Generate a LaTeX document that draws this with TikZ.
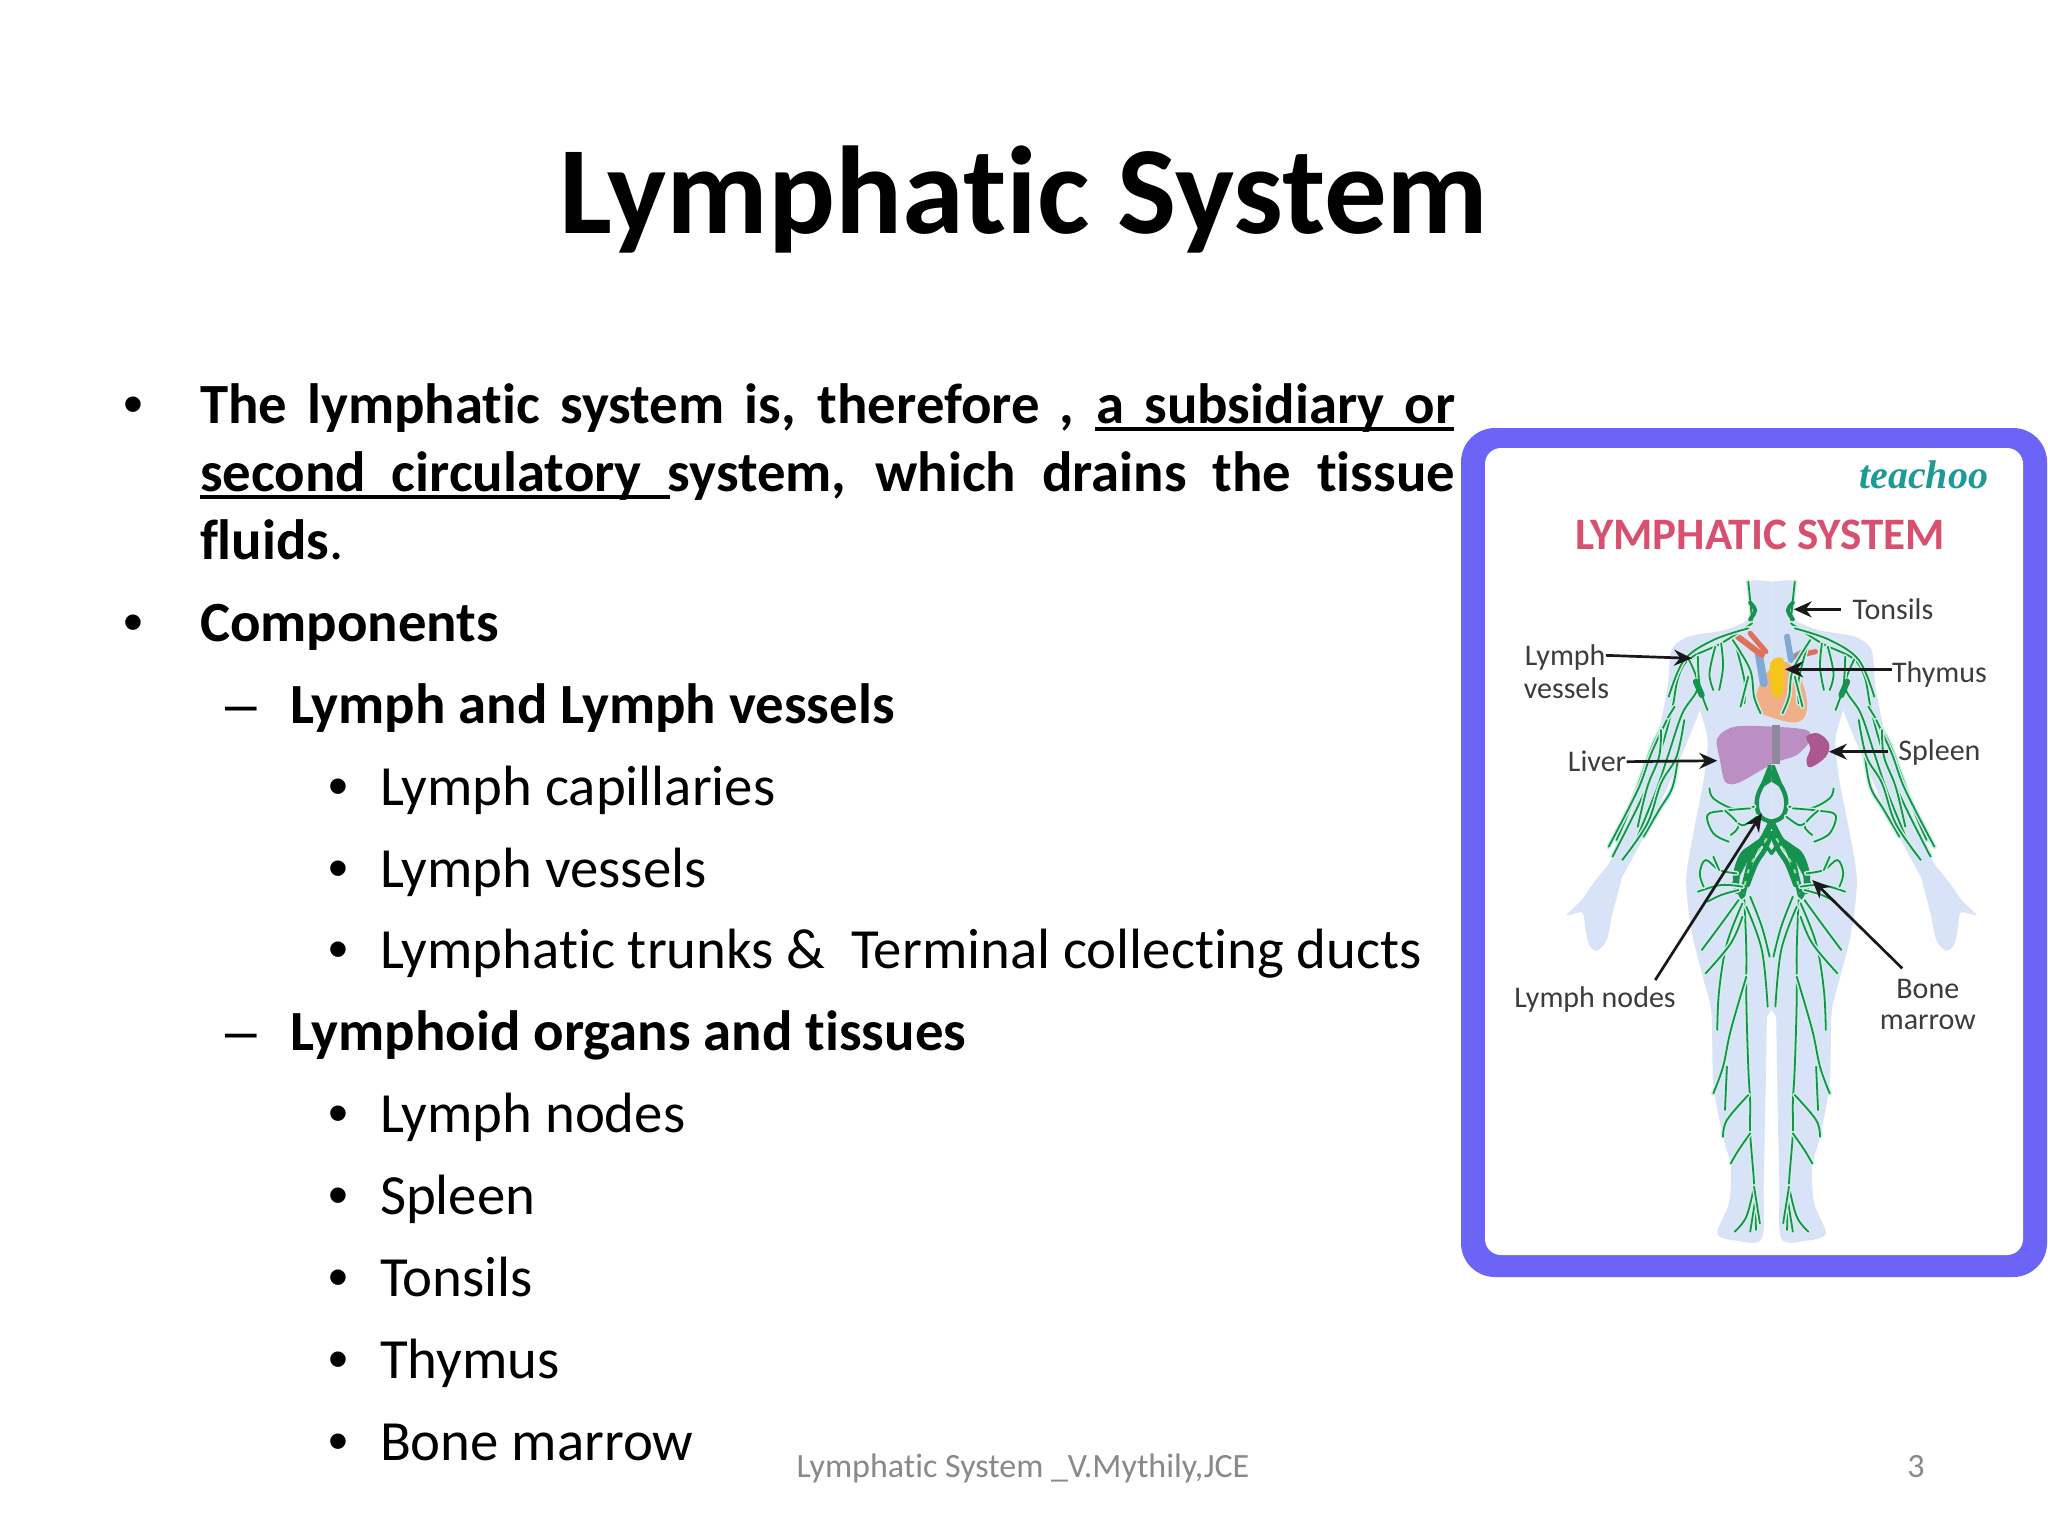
\documentclass[tikz,border=0pt]{standalone}
\usepackage{fontspec}
\setmainfont[Ligatures=NoCommon]{Carlito}
\newfontfamily\bltfont{Liberation Sans}
\usetikzlibrary{arrows.meta}
\definecolor{frameblue}{HTML}{6C64F6}
\definecolor{skinblue}{HTML}{D9E3F7}
\definecolor{veingreen}{HTML}{17924E}
\definecolor{veinglow}{HTML}{CFF0E4}
\definecolor{beadgreen}{HTML}{8FE39A}
\definecolor{titlepink}{HTML}{D8506F}
\definecolor{teachteal}{HTML}{1E9A96}
\definecolor{lblgray}{HTML}{3C3C3C}
\definecolor{footgray}{HTML}{898989}
\definecolor{liverp}{HTML}{BC8FC4}
\definecolor{spleenp}{HTML}{AB5790}
\definecolor{heartc}{HTML}{F0AF87}
\definecolor{thymusy}{HTML}{F6C51C}
\definecolor{vesselblue}{HTML}{7FA9D6}
\definecolor{vesselred}{HTML}{E0705A}
\definecolor{spineg}{HTML}{8E8A9C}
\tikzset{
  body/.style={inner sep=0pt,outer sep=0pt,anchor=base west,font=\fontsize{28.4}{34}\selectfont},
  bodyb/.style={body,font=\fontsize{28.4}{34}\selectfont\bfseries},
  blt/.style={inner sep=0pt,anchor=base,font=\fontsize{28.4}{34}\selectfont\bltfont},
  uline/.style={line width=1.6pt,black},
  cardout/.style={fill=frameblue,rounded corners=17pt},
  cardin/.style={fill=white,rounded corners=8pt},
  lbl/.style={inner sep=0pt,text=lblgray,font=\fontsize{15}{18}\selectfont},
  arr/.style={-{Stealth[length=9pt,width=8pt,inset=3pt]},line width=1.35pt,black!90},
  vessel/.style={veingreen,line width=.9pt,line cap=round},
  vglow/.style={veinglow,line width=2.4pt,line cap=round},
  trunk/.style={veingreen,line width=2.2pt,line cap=round},
  beads/.style={beadgreen,line width=1pt,dash pattern=on 2pt off 4pt},
  zf/.style={shift={(1440,420)},x=0.19388pt,y=-0.16667pt},
  halfr/.style={shift={(1771.5,420)},x=0.19388pt,y=-0.16667pt},
  halfl/.style={shift={(1771.5,420)},x=-0.19388pt,y=-0.16667pt},
}
\newcommand\vesselline[1]{\draw[vessel,preaction={draw,vglow}] plot[smooth,tension=.6] coordinates {#1};}
\newcommand\bodyskin{%
  \fill[skinblue] plot[smooth,tension=.45] coordinates {(0,485) (-60,485) (-58,560) (-62,600) (-120,630) (-215,650) (-258,690) (-268,800) (-295,950) (-345,1120) (-385,1260) (-425,1340)}
   -- plot[smooth,tension=.5] coordinates {(-425,1340) (-460,1390) (-490,1440) (-528,1485) (-488,1478) (-480,1530) (-470,1575) (-450,1592) (-425,1560) (-410,1480) (-385,1370)}
   -- plot[smooth,tension=.45] coordinates {(-385,1370) (-320,1230) (-260,1080) (-205,930) (-185,870)}
   -- plot[smooth,tension=.5] coordinates {(-185,870) (-165,960) (-175,1080) (-200,1230) (-220,1380) (-205,1540) (-175,1680) (-155,1780) (-150,1990) (-125,2150) (-105,2240) (-110,2350) (-140,2440) (-90,2462) (-25,2455) (-20,2290) (-15,2000) (-12,1790)}
   -- (0,1770) -- cycle;}
\newcommand\bodyveins{%
  % neck
  \vesselline{(-60,485) (-55,540) (-50,600)}
  \draw[trunk,line width=2pt] (-55,548) .. controls (-38,570) .. (-55,598);
  % shoulder and arm
  \vesselline{(-50,610) (-130,670) (-210,715) (-240,770) (-255,860) (-275,950) (-300,1040) (-345,1160) (-410,1310)}
  \vesselline{(-215,715) (-190,800) (-230,880) (-265,1000) (-300,1120) (-360,1290)}
  \vesselline{(-250,860) (-300,960) (-330,1050) (-370,1180) (-400,1260)}
  \vesselline{(-270,900) (-310,1000) (-345,1110) (-420,1280)}
  \vesselline{(-240,1000) (-255,1100) (-290,1170) (-330,1250)}
  \vesselline{(-60,625) (-150,660) (-225,720) (-265,830)}
  \vesselline{(-225,900) (-245,1010) (-285,1090) (-320,1210) (-385,1320)}
  \vesselline{(-285,930) (-290,1010) (-320,1100) (-345,1220)}
  % axilla
  \vesselline{(-190,710) (-185,800) (-165,870)}
  \draw[trunk,line width=3pt] (-195,785) -- (-180,825);
  % chest
  \vesselline{(-130,670) (-125,740) (-135,810)}
  \vesselline{(-95,665) (-70,780) (-70,850)}
  \vesselline{(-100,660) (-55,750) (-45,830) (-28,880)}
  \vesselline{(-60,770) (-80,860)}
  \vesselline{(-145,680) (-160,760) (-150,810)}
  % abdominal loop
  \draw[trunk] plot[smooth,tension=.7] coordinates {(0,1060) (-28,1105) (-38,1150) (-28,1190) (0,1205)};
  \fill[veingreen] (0,1035) -- (-8,1035) -- (-34,1110) -- (0,1085) -- cycle;
  \vesselline{(-45,1160) (-100,1165) (-150,1135) (-160,1105)}
  \vesselline{(-55,1165) (-120,1172) (-165,1185) (-150,1240) (-110,1265)}
  \vesselline{(-120,1172) (-85,1215) (-105,1245)}
  \vesselline{(-38,1190) (-70,1215) (-85,1210)}
  % pelvis
  \draw[trunk,line width=3pt] plot[smooth,tension=.6] coordinates {(-2,1210) (-22,1255) (-48,1300) (-62,1360) (-75,1425)};
  \draw[trunk,line width=2.4pt] plot[smooth,tension=.6] coordinates {(-10,1250) (-60,1290) (-85,1345) (-90,1415)};
  \draw[trunk,line width=2.4pt] plot[smooth,tension=.6] coordinates {(0,1240) (-18,1290) (-40,1330) (-62,1395)};
  \draw[trunk,line width=1.8pt] plot[smooth,tension=.6] coordinates {(0,1300) (-22,1272) (-50,1280) (-70,1330) (-100,1395)};
  \draw[trunk,line width=1.8pt] plot[smooth,tension=.6] coordinates {(-30,1270) (-75,1300) (-95,1375) (-75,1435)};
  \draw[beads] plot[smooth,tension=.6] coordinates {(-12,1255) (-40,1305) (-62,1360) (-72,1420)};
  \vesselline{(-75,1400) (-130,1395) (-190,1415)}
  \vesselline{(-90,1360) (-135,1350) (-170,1320) (-185,1360) (-175,1400)}
  \vesselline{(-135,1350) (-150,1310)}
  \vesselline{(-85,1410) (-130,1425) (-165,1445)}
  % legs
  \vesselline{(-70,1440) (-65,1590) (-65,1740) (-60,1940) (-55,2050) (-55,2140) (-45,2290) (-40,2430)}
  \vesselline{(-75,1450) (-115,1570) (-135,1710) (-140,1830)}
  \vesselline{(-75,1490) (-105,1570) (-170,1660)}
  \vesselline{(-65,1460) (-25,1590) (-10,1760)}
  \vesselline{(-55,1430) (-25,1520) (-5,1610)}
  \vesselline{(-65,1670) (-105,1830) (-125,1940) (-150,2020)}
  \vesselline{(-60,2025) (-115,2100) (-125,2150)}
  \vesselline{(-55,2140) (-85,2190) (-105,2230)}
  \vesselline{(-115,1940) (-120,2070)}
  \vesselline{(-85,1440) (-135,1520) (-180,1590)}
  \vesselline{(-45,2300) (-65,2390) (-95,2435)}
  \vesselline{(-42,2340) (-55,2435)}
  \vesselline{(-45,2300) (-30,2410)}
}
\begin{document}
\begin{tikzpicture}[x=0.5pt,y=-0.5pt]
\useasboundingbox (0,0) rectangle (2048,1536);
\fill[white] (0,0) rectangle (2048,1536);
% title
\node[inner sep=0pt,anchor=base,font=\fontsize{62.5}{70}\selectfont\bfseries] (title) at (1024,233) {Lymphatic System};
% body text
\node[blt] (b1) at (133,423) {•};
\node[bodyb] (t1) at (200,423) {\makebox[627.5pt][s]{The lymphatic system is, therefore , a subsidiary or}};
\node[bodyb] (t2) at (200,491) {\makebox[627.5pt][s]{second circulatory system, which drains the tissue}};
\node[bodyb] (t3) at (200,559) {fluids\mdseries.};
\draw[uline] (1095,429) -- (1454,429);
\draw[uline] (200,497) -- (670,497);
\node[blt] (b2) at (133,641) {•};
\node[bodyb] (t4) at (200,641) {Components};
\node[blt] (d1) at (241,723) {–};
\node[bodyb] (t5) at (290,723) {Lymph and Lymph vessels};
\node[blt] (b3) at (338,805) {•};
\node[body] (t6) at (380,805) {Lymph capillaries};
\node[blt] (b4) at (338,887) {•};
\node[body] (t7) at (380,887) {Lymph vessels};
\node[blt] (b5) at (338,968) {•};
\node[body] (t8) at (380,968) {Lymphatic trunks \&\ \ Terminal collecting ducts};
\node[blt] (d2) at (241,1050) {–};
\node[bodyb] (t9) at (290,1050) {Lymphoid organs and tissues};
\node[blt] (b6) at (338,1132) {•};
\node[body] (t10) at (380,1132) {Lymph nodes};
\node[blt] (b7) at (338,1214) {•};
\node[body] (t11) at (380,1214) {Spleen};
\node[blt] (b8) at (338,1296) {•};
\node[body] (t12) at (380,1296) {Tonsils};
\node[blt] (b9) at (338,1378) {•};
\node[body] (t13) at (380,1378) {Thymus};
\node[blt] (b10) at (338,1460) {•};
\node[body] (t14) at (380,1460) {Bone marrow};
% footer
\node[inner sep=0pt,anchor=base,text=footgray,font=\fontsize{17}{20}\selectfont] (foot) at (1023,1477) {Lymphatic System \_V.Mythily,JCE};
\node[inner sep=0pt,anchor=base,text=footgray,font=\fontsize{17}{20}\selectfont] (pg) at (1916,1477) {3};
% card
\fill[cardout] (1461,428) rectangle (2047,1277);
\fill[cardin] (1485,448) rectangle (2023,1255);
% body
\begin{scope}[halfr]\bodyskin\end{scope}
\begin{scope}[halfl]\bodyskin\end{scope}
% organs
\begin{scope}[zf]
  \fill[heartc] plot[smooth cycle,tension=.6] coordinates {(835,770) (812,860) (850,890) (920,907) (946,870) (935,790) (890,725)};
  \fill[liverp] plot[smooth cycle,tension=.5] coordinates {(715,955) (760,920) (860,920) (945,930) (955,960) (920,1005) (860,1030) (770,1088) (735,1085) (722,1020)};
  \fill[spleenp] plot[smooth cycle,tension=.6] coordinates {(945,950) (975,940) (1003,970) (995,1010) (955,1042) (945,1020) (955,985)};
  \fill[spineg] (855,915) rectangle (876,1032);
  \draw[vesselblue,line width=4pt,line cap=round] (822,700) -- (835,790);
  \draw[vesselblue,line width=3pt,line cap=round] (895,650) -- (905,720);
  \draw[vesselblue,line width=3pt,line cap=round] (945,690) -- (905,715);
  \draw[vesselred,line width=3pt,line cap=round] (768,650) -- (830,705);
  \draw[vesselred,line width=2.6pt,line cap=round] (800,640) -- (840,695);
  \draw[vesselred,line width=2.6pt,line cap=round] (920,708) -- (968,695);
  \fill[thymusy] plot[smooth cycle,tension=.6] coordinates {(852,730) (875,712) (888,730) (885,815) (862,830) (852,790)};
\end{scope}
\begin{scope}[halfr]\bodyveins\end{scope}
\begin{scope}[halfl]\bodyveins\end{scope}
% card labels and arrows
\begin{scope}[zf]
  \node[inner sep=0pt,text=teachteal,font=\fontsize{20}{24}\selectfont\fontspec{Liberation Serif}\bfseries\itshape] (teachoo) at (1247,163) {teachoo};
  \node[inner sep=0pt,text=titlepink,font=\fontsize{22.5}{26}\selectfont] (cardtitle) at (825,345) {\textbf{LYMPHATIC SYSTEM}};
  \node[lbl] (tonsils) at (1168,568) {Tonsils};
  \node[lbl,anchor=base west] (lv1) at (218,736) {Lymph};
  \node[lbl,anchor=base west] (lv2) at (215,834) {vessels};
  \node[lbl] (thymus) at (1288,762) {Thymus};
  \node[lbl] (liver) at (405,1025) {Liver};
  \node[lbl] (spleen) at (1288,998) {Spleen};
  \node[lbl] (nodes) at (400,1738) {Lymph nodes};
  \node[lbl] (bone) at (1258,1708) {Bone};
  \node[lbl] (marrow) at (1258,1808) {marrow};
  \coordinate (atons) at (912,568);
  \coordinate (alym) at (650,715);
  \coordinate (athy) at (890,748);
  \coordinate (aliv) at (715,1022);
  \coordinate (aspl) at (1003,995);
  \coordinate (anod) at (830,1180);
  \coordinate (abon) at (960,1380);
  \coordinate (snod) at (555,1680);
  \coordinate (sbon) at (1192,1645);
  \draw[arr] (tonsils.west) ++(-30,0) -- (atons);
  \draw[arr] (lv1.east) ++(0,-6) -- (alym);
  \draw[arr] (thymus.west) ++(0,-14) -- (athy);
  \draw[arr] (liver.east) -- (aliv);
  \draw[arr] (spleen.west) ++(-25,-3) -- (aspl);
  \draw[arr] (snod) -- (anod);
  \draw[arr] (sbon) -- (abon);
\end{scope}
\end{tikzpicture}
\end{document}
